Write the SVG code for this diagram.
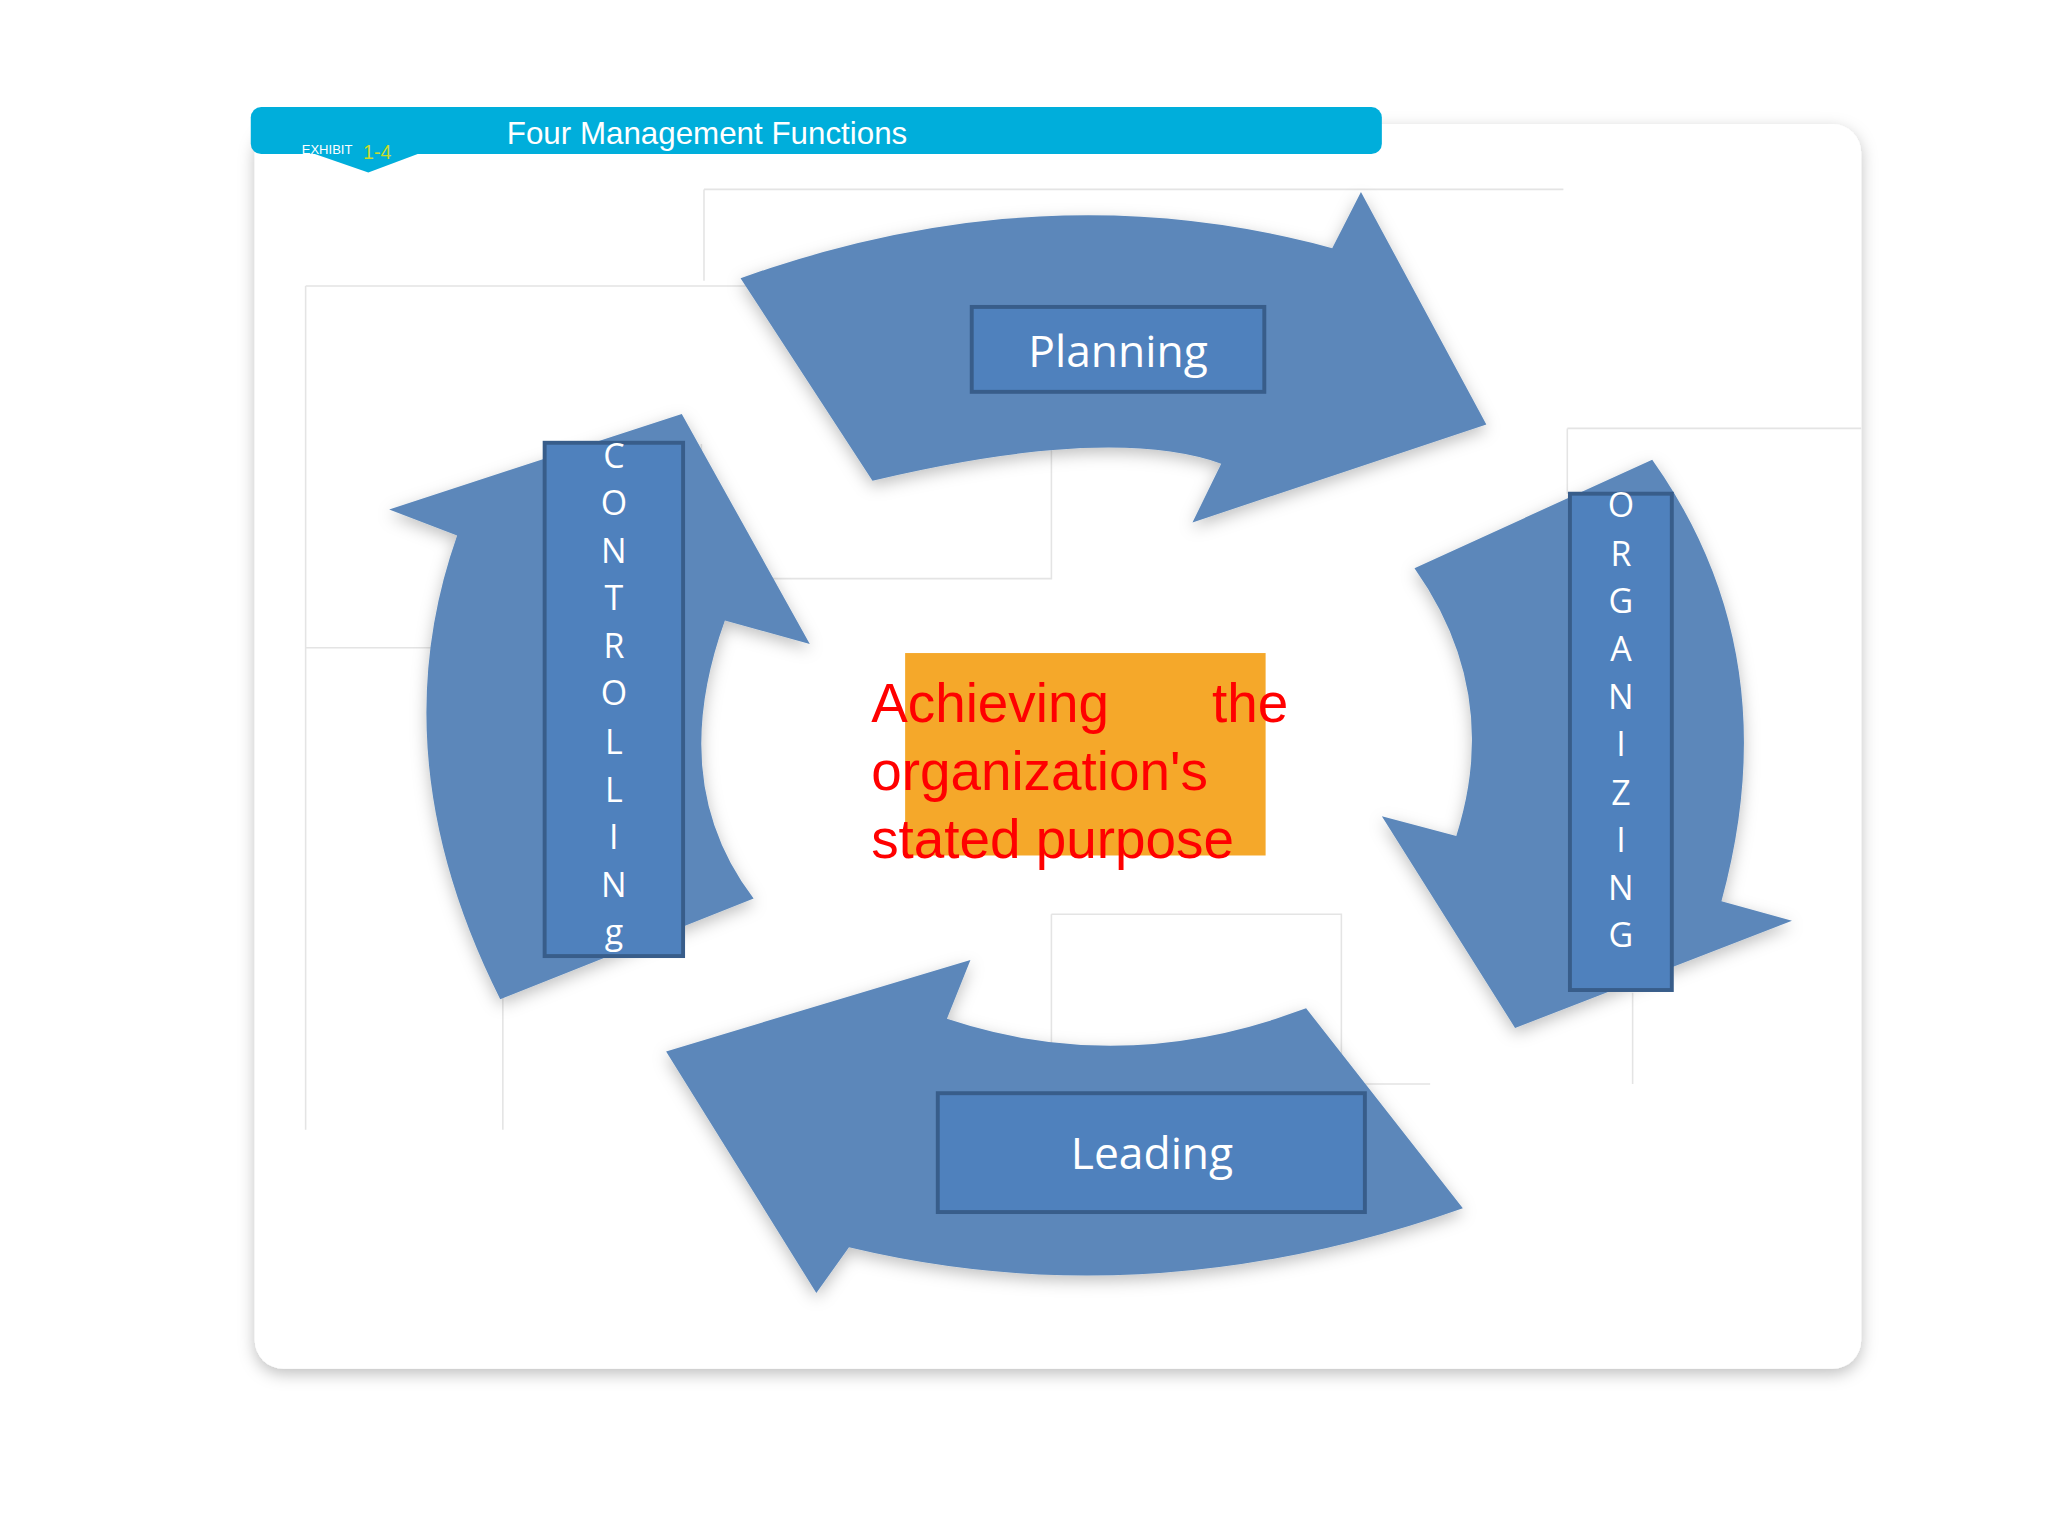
<svg xmlns="http://www.w3.org/2000/svg" width="2048" height="1536" viewBox="0 0 2048 1536">
<style>
.arr{fill:#5B87BA}
.box{fill:#4F81BD;stroke:#385D8A;stroke-width:3}
.lbl{font-family:"Open Sans","Noto Sans",sans-serif;fill:#fff;font-size:34px}
.vl{font-family:"Open Sans","Noto Sans",sans-serif;fill:#fff;font-size:26px;text-anchor:middle}
.cen{font-family:"Liberation Sans",Arial,sans-serif;fill:#FF0000;font-size:42px}
.gl{stroke:#e4e4e4;stroke-width:1.2;fill:none}
</style>
<defs>
<filter id="sh" x="-10%" y="-10%" width="120%" height="120%"><feDropShadow dx="0" dy="4" stdDeviation="6" flood-color="#000" flood-opacity="0.25"/></filter>
</defs>
<rect width="2048" height="1536" fill="#fff"/>
<g transform="scale(1.3061)">
<rect x="195" y="95" width="1230" height="953" rx="22" fill="#fff" filter="url(#sh)"/>
<g id="header">
<rect x="192" y="82" width="866" height="36" rx="8" fill="#00AEDB"/>
<path d="M230 114 L330 114 L282 132 Z" fill="#00AEDB"/>
<text x="231" y="118" font-family="Liberation Sans,sans-serif" font-size="10" fill="#fff">EXHIBIT</text>
<text x="278" y="122" font-family="Liberation Sans,sans-serif" font-size="15" fill="#C8DC2B">1-4</text>
<text x="388" y="110" font-family="Liberation Sans,sans-serif" font-size="24" fill="#fff">Four  Management  Functions</text>
</g>
<g class="gl">
<path d="M539 145 L1197 145 M539 145 V215 M234 219 H800 M234 219 V865 M537 340 V443 H805 V338 M234 496 H417 M385 588 H417 M385 588 V865 M1200 328 H1425 M1200 328 V378 M805 700 H1027 V830 M805 700 V835 M1250 760 V830 M1027 830 H1095"/>
</g>
<g id="planning">
<path class="arr" filter="url(#sh)" d="M567 213 Q800 130 1020 190 L1042 147 L1138 325 L913 400 L935 355 Q850 325 668 368 Z"/>
<rect class="box" x="744" y="235" width="224" height="65"/>
<text class="lbl" x="856" y="281" text-anchor="middle">Planning</text>
</g>
<g id="organizing">
<path class="arr" filter="url(#sh)" d="M1265 352 Q1370 500 1318 690 L1372 705 L1160 787 L1058 625 L1115 640 Q1150 530 1083 435 Z"/>
<rect class="box" x="1202" y="378" width="78" height="380"/>
<g class="vl"><text x="1241" y="396">O</text><text x="1241" y="433">R</text><text x="1241" y="469">G</text><text x="1241" y="506">A</text><text x="1241" y="543">N</text><text x="1241" y="579">I</text><text x="1241" y="616">Z</text><text x="1241" y="652">I</text><text x="1241" y="689">N</text><text x="1241" y="725">G</text></g>
</g>
<g id="leading">
<path class="arr" filter="url(#sh)" d="M1120 925 Q880 1010 650 955 L625 990 L510 805 L743 735 L725 780 Q860 825 1000 772 Z"/>
<rect class="box" x="718" y="837" width="327" height="91"/>
<text class="lbl" x="882" y="895" text-anchor="middle">Leading</text>
</g>
<g id="controlling">
<path class="arr" filter="url(#sh)" d="M383 765 Q290 580 350 410 L298 390 L522 317 L620 493 L555 475 Q510 600 577 688 Z"/>
<rect class="box" x="417" y="339" width="106" height="393"/>
<g class="vl"><text x="470" y="358">C</text><text x="470" y="394">O</text><text x="470" y="431">N</text><text x="470" y="467">T</text><text x="470" y="504">R</text><text x="470" y="540">O</text><text x="470" y="577">L</text><text x="470" y="614">L</text><text x="470" y="650">I</text><text x="470" y="687">N</text><text x="470" y="723">g</text></g>
</g>
<g id="center">
<rect x="693" y="500" width="276" height="155" fill="#F5A82A"/>
<text class="cen" x="667" y="553">Achieving</text>
<text class="cen" x="928" y="553">the</text>
<text class="cen" x="667" y="605">organization's</text>
<text class="cen" x="667" y="657">stated purpose</text>
</g>
</g>
</svg>
